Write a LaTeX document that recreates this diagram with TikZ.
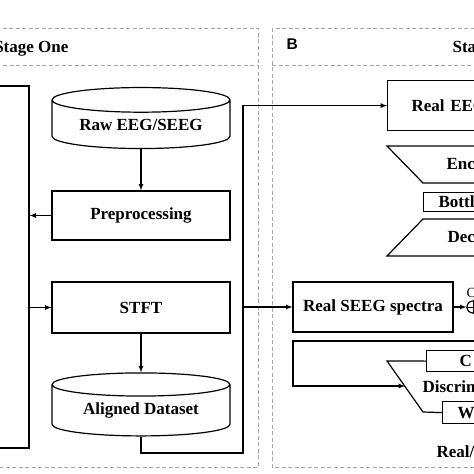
\documentclass[tikz,border=0pt]{standalone}
\usepackage{fontspec}
\setmainfont{Liberation Serif}
\newfontfamily\panelfont{Liberation Sans}
\usetikzlibrary{shapes.geometric, arrows, positioning}

\begin{document}
\begin{tikzpicture}[x=1pt, y=-1pt, >=latex, line width=1.2pt,
    every node/.style={font=\bfseries\fontsize{17}{20}\selectfont, inner sep=0pt},
    panel/.style={draw=black!35, line width=0.9pt, dash pattern=on 4pt off 2.5pt},
    blk/.style={draw, rectangle, minimum width=178pt, minimum height=50pt},
    db/.style={draw, cylinder, shape border rotate=90, aspect=0.2, minimum width=178pt, minimum height=61pt},
    cut/.style={draw, anchor=north west, align=left}]
        \path[use as bounding box, clip] (0,0) rectangle (474,474);
        % Panels
        \draw[panel] (-10,28) rectangle (258,467);
        \draw[panel] (-10,65) -- (258,65);
        \draw[panel] (272,28) rectangle (490,467);
        \draw[panel] (272,65) -- (490,65);
        \node[anchor=base east] (stone) at (69,52) {Stage One};
        \node[anchor=base west, font=\panelfont\bfseries\fontsize{15.5}{18}\selectfont] (lblB) at (286,49) {B};
        \node[anchor=base west] (sttwo) at (452,52) {Sta};
        % Stage one
        \node[draw, minimum width=60pt, minimum height=362pt] (hub) at (-1,267) {};
        \node[db] (raw) at (141,124.5) {Raw EEG/SEEG};
        \node[blk, minimum height=49pt] (pre) at (141,215.5) {Preprocessing};
        \node[blk, minimum height=51pt] (stft) at (141,307.5) {STFT};
        \node[db, minimum height=63pt] (aligned) at (141,410.5) {Aligned Dataset};
        % Stage two
        \node[cut, minimum height=50pt, text width=110pt, inner xsep=24pt] (realeeg) at (387,80) {Real EEG};
        \draw (500,146) -- (387,146) -- (423,183) -- (500,183);
        \node[anchor=west] (enc) at (446,164.5) {Enc};
        \node[cut, minimum height=19pt, text width=60pt, inner xsep=15pt] (bottle) at (423,192) {Bottl};
        \draw (500,219) -- (423,219) -- (387,256) -- (500,256);
        \node[anchor=west] (dec) at (447,237.5) {Dec};
        \node[draw, minimum width=160pt, minimum height=50pt] (realseeg) at (373,307) {Real SEEG spectra};
        \node[draw, circle, minimum size=12pt] (cat) at (473,307) {};
        \draw[line width=0.8pt] (cat.west) -- (cat.east) (cat.north) -- (cat.south);
        \node[anchor=base west, font=\fontsize{14}{16}\selectfont] (catlbl) at (466,297) {C};
        \node[cut, minimum height=21pt, text width=40pt, inner xsep=33pt] (cbox) at (426,350) {C};
        \node[cut, minimum height=22pt, text width=40pt, inner xsep=15pt] (wbox) at (442,401) {W};
        \draw (cbox.west) -- (387,361) -- (423,412) -- (wbox.west);
        \node[anchor=west] (disc) at (422,387) {Discrim};
        \node[anchor=west] (rf) at (436,452) {Real/};
        % Arrows
        \draw[->] (raw) -- (pre);
        \draw[->] (pre.west) -- (pre -| hub.east);
        \draw[->] (stft -| hub.east) -- (stft.west);
        \draw[->] (stft) -- (aligned);
        \coordinate (bus) at (243,453);
        \draw[->] (aligned.south) |- (bus) |- (realeeg.west);
        \draw[->] (bus |- realseeg) -- (realseeg.west);
        \draw[->] (realseeg.east) -- (cat.west);
        \coordinate (fb) at (490,341);
        \coordinate (dside) at (405,386);
        \draw[->] (fb) -- (293,341) |- (dside);
    \end{tikzpicture}
\end{document}
